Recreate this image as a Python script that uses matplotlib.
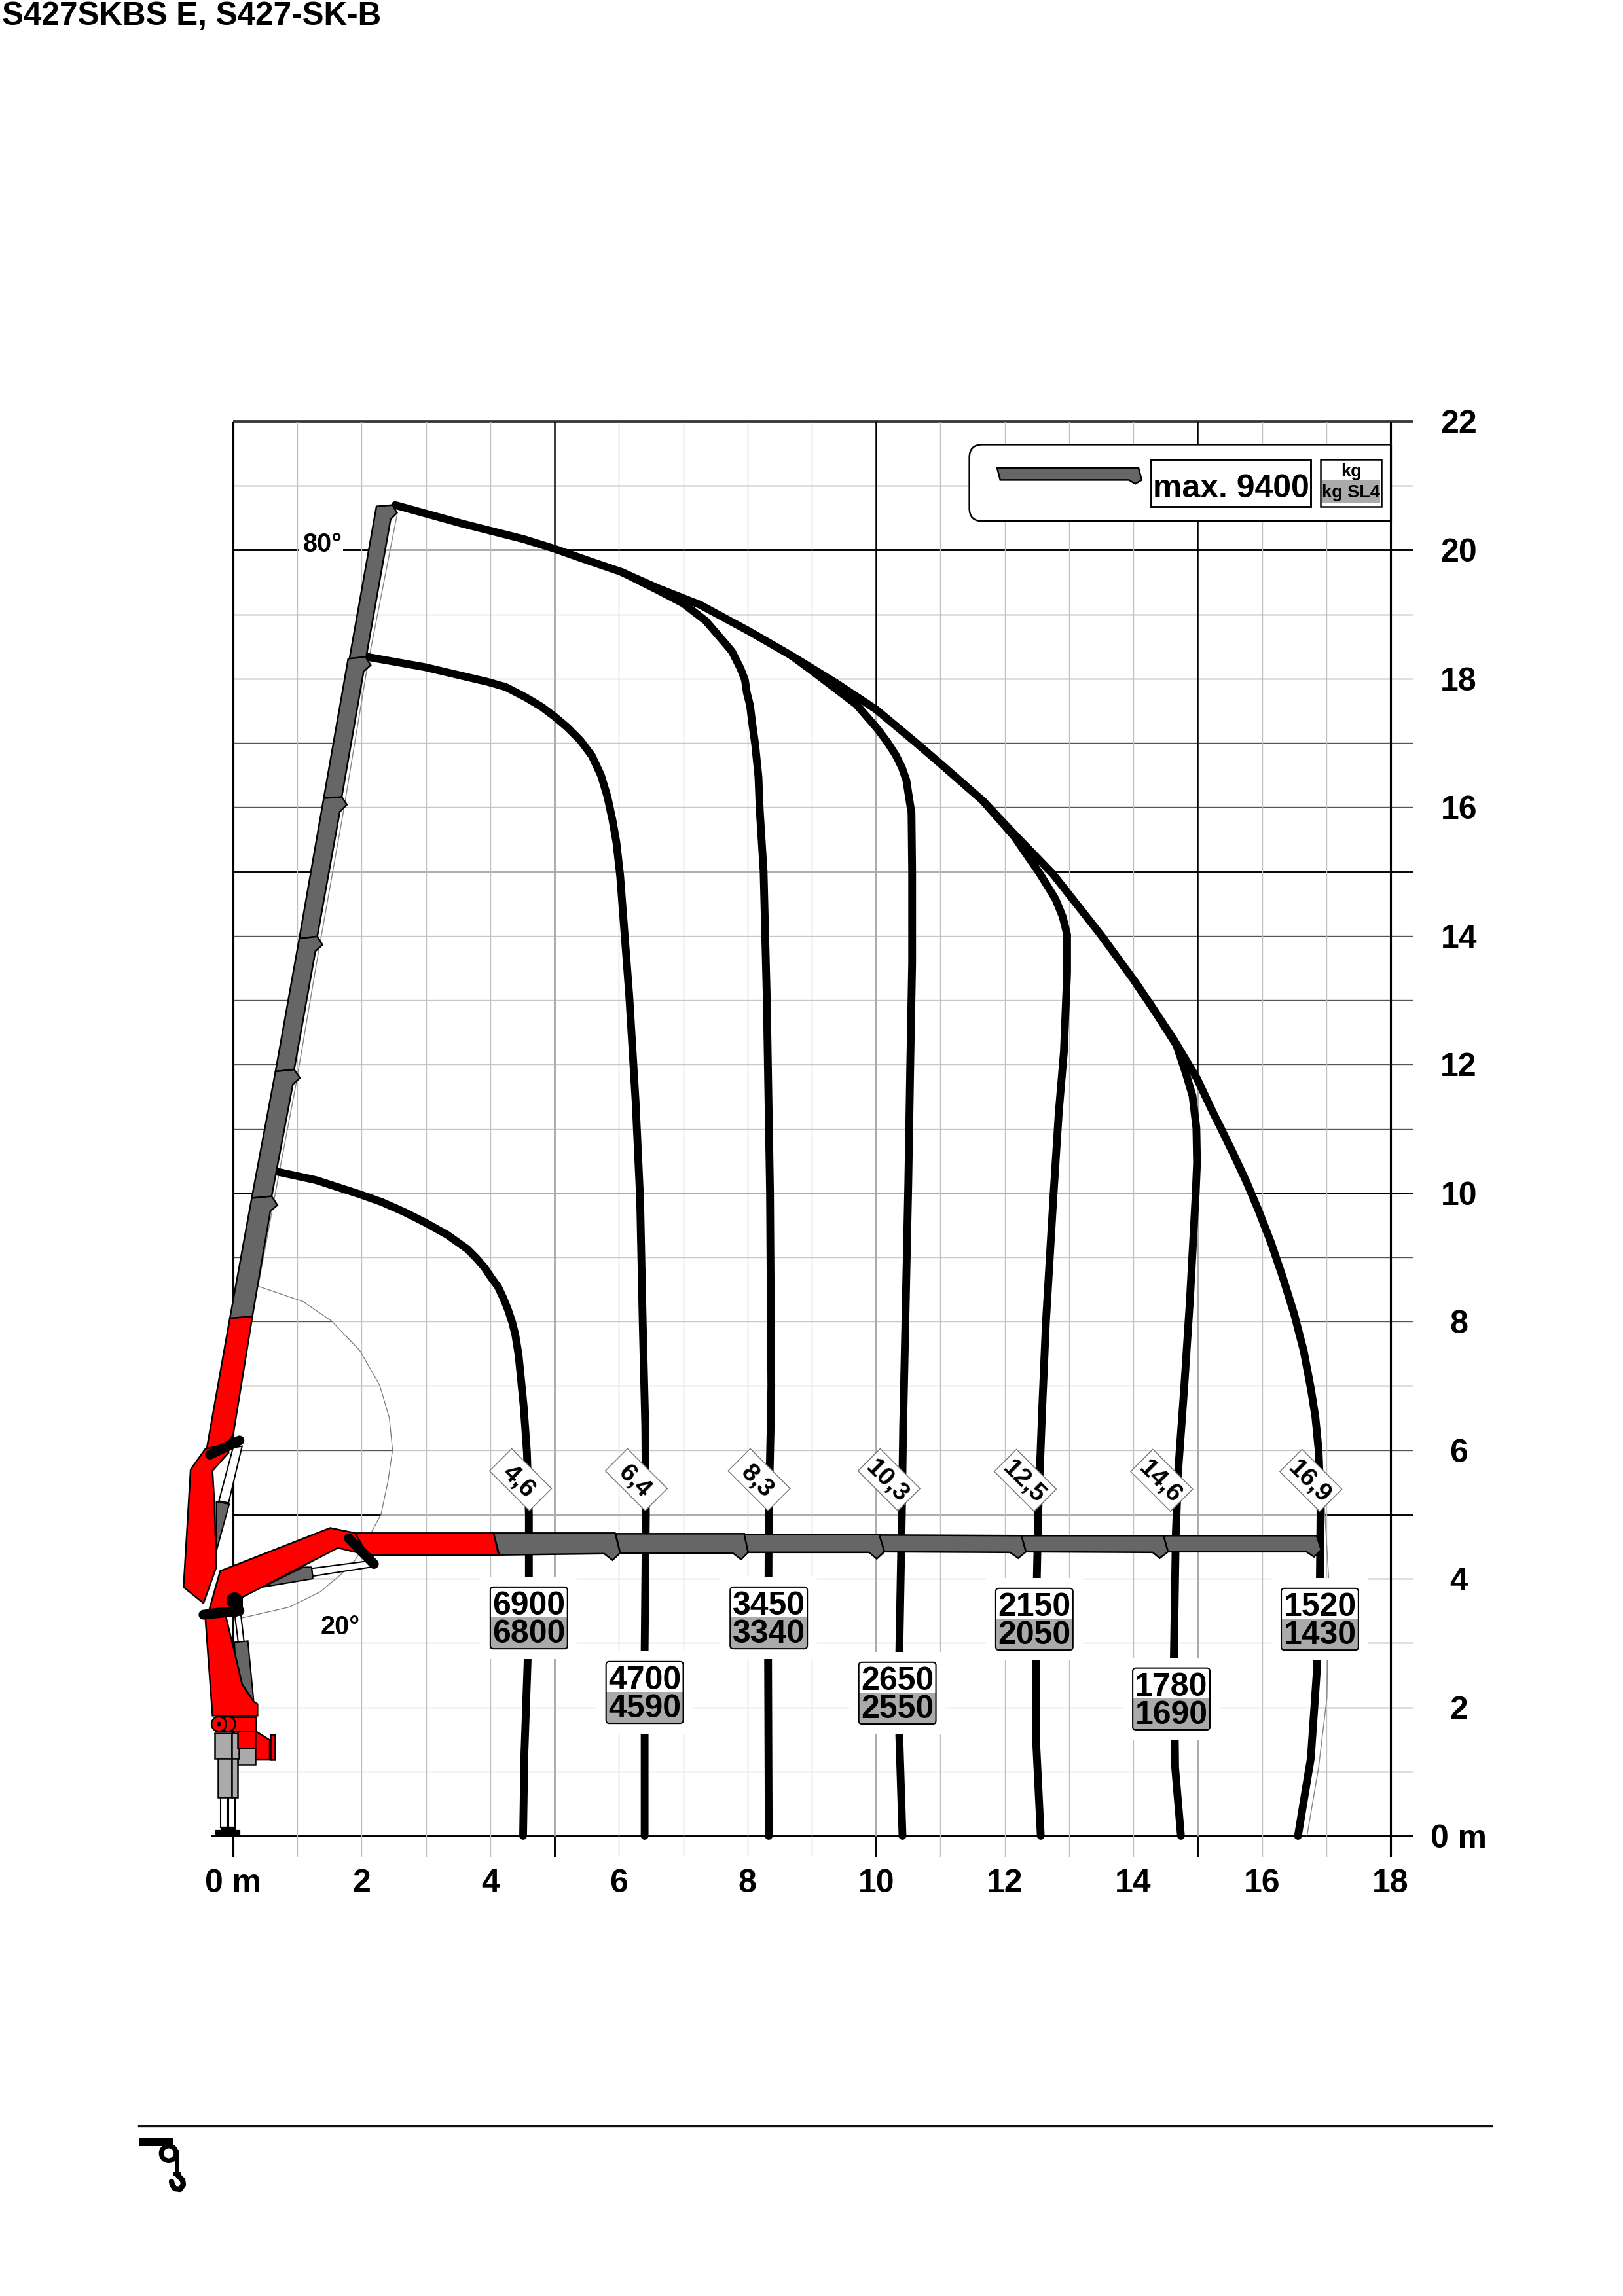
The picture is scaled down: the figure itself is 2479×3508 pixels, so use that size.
import numpy as np
import matplotlib
matplotlib.use("Agg")
import matplotlib.pyplot as plt
from matplotlib.patches import Polygon, Rectangle, FancyBboxPatch, Circle
from matplotlib.lines import Line2D

plt.rcParams['font.family'] = ['Liberation Sans', 'DejaVu Sans']
plt.rcParams['font.weight'] = 'bold'

TITLE = "S427SKBS E, S427-SK-B"
X_TICKS = list(range(0, 19, 2))
Y_TICKS = list(range(0, 23, 2))
X_LABELS = ["0 m"] + [str(v) for v in X_TICKS[1:]]
Y_LABELS = ["0 m"] + [str(v) for v in Y_TICKS[1:]]

# Reach envelope and hook-height curves (metres)
ENV_X = [2.52, 3.57, 4.52, 5.0, 5.54, 6.04, 6.6, 7.26, 8.02, 8.68, 9.38, 10.0, 10.6, 11.02, 11.66, 12.15, 12.75,
         13.49, 14.03, 14.62, 14.99, 15.24, 15.36, 15.56, 15.76, 15.95, 16.14, 16.32, 16.5, 16.65, 16.76, 16.83,
         16.88, 16.9, 16.91, 16.9, 16.85, 16.76, 16.56]
ENV_Y = [20.70, 20.41, 20.17, 20.02, 19.83, 19.66, 19.41, 19.15, 18.74, 18.36, 17.93, 17.52, 17.02, 16.66, 16.1, 15.58, 14.96,
         14.02, 13.28, 12.4, 11.78, 11.25, 11.01, 10.6, 10.17, 9.72, 9.23, 8.7, 8.12, 7.54, 6.96, 6.52,
         6.01, 5.5, 5.0, 3.97, 2.52, 1.21, 0.0]
C46_X = [0.69, 1.29, 1.97, 2.31, 2.65, 2.99, 3.33, 3.64, 3.78, 3.91, 4.01, 4.12, 4.2, 4.27, 4.34, 4.39, 4.44, 4.47, 4.52, 4.57, 4.6, 4.6, 4.58, 4.53, 4.51]
C46_Y = [10.33, 10.2, 9.98, 9.86, 9.71, 9.54, 9.35, 9.13, 8.99, 8.84, 8.69, 8.54, 8.37, 8.2, 7.99, 7.79, 7.48, 7.18, 6.67, 5.96, 5.0, 4.0, 2.7, 1.27, 0.0]
C64_X = [2.08, 2.98, 3.96, 4.24, 4.55, 4.8, 5.0, 5.2, 5.4, 5.58, 5.72, 5.82, 5.9, 5.96, 6.02, 6.06, 6.16, 6.26, 6.33, 6.37, 6.41, 6.42, 6.4, 6.4, 6.4]
C64_Y = [18.34, 18.18, 17.95, 17.87, 17.71, 17.56, 17.41, 17.24, 17.04, 16.8, 16.5, 16.17, 15.8, 15.46, 14.93, 14.4, 13.08, 11.42, 9.9, 8.0, 6.36, 5.0, 2.87, 1.55, 0.0]
C83_X = [6.04, 6.6, 7.0, 7.35, 7.66, 7.76, 7.89, 7.96, 7.99, 8.04, 8.07, 8.12, 8.17, 8.19, 8.25, 8.3, 8.35, 8.37, 8.36, 8.33, 8.32, 8.33]
C83_Y = [19.66, 19.38, 19.17, 18.9, 18.54, 18.42, 18.16, 17.98, 17.78, 17.58, 17.33, 16.97, 16.47, 15.96, 15.0, 13.0, 10.0, 7.0, 6.36, 5.0, 2.7, 0.0]
C103_X = [8.68, 8.98, 9.69, 10.02, 10.17, 10.3, 10.4, 10.47, 10.51, 10.55, 10.56, 10.56, 10.53, 10.5, 10.42, 10.4, 10.36, 10.36, 10.41]
C103_Y = [18.36, 18.14, 17.6, 17.22, 17.02, 16.82, 16.62, 16.42, 16.16, 15.91, 15.0, 13.58, 11.95, 10.14, 6.36, 5.0, 2.85, 1.56, 0.0]
C125_X = [11.66, 12.15, 12.55, 12.79, 12.9, 12.97, 12.97, 12.92, 12.84, 12.76, 12.64, 12.58, 12.52, 12.5, 12.49, 12.49, 12.56]
C125_Y = [16.1, 15.54, 14.96, 14.57, 14.3, 14.02, 13.43, 12.2, 11.25, 10.0, 7.98, 6.59, 5.0, 4.05, 2.74, 1.43, 0.0]
C146_X = [14.03, 14.3, 14.67, 14.82, 14.92, 14.98, 14.99, 14.97, 14.88, 14.79, 14.7, 14.66, 14.63, 14.65, 14.74]
C146_Y = [13.28, 12.88, 12.3, 11.85, 11.51, 11.01, 10.47, 10.0, 8.34, 6.96, 5.72, 4.7, 2.77, 1.06, 0.0]
CURVES = [(C46_X, C46_Y), (C64_X, C64_Y), (C83_X, C83_Y), (C103_X, C103_Y), (C125_X, C125_Y), (C146_X, C146_Y), (ENV_X, ENV_Y)]

# Loads
REACH_LABELS = ["4,6", "6,4", "8,3", "10,3", "12,5", "14,6", "16,9"]
REACH_X = [4.47, 6.27, 8.18, 10.2, 12.32, 14.44, 16.76]
REACH_Y = [5.54, 5.54, 5.54, 5.54, 5.53, 5.53, 5.53]
LOAD_TOP = [6900, 4700, 3450, 2650, 2150, 1780, 1520]
LOAD_LOW = [6800, 4590, 3340, 2550, 2050, 1690, 1430]
LOAD_X = [4.6, 6.4, 8.33, 10.33, 12.46, 14.59, 16.9]
LOAD_BOX_TOP = [3.87, 2.71, 3.87, 2.70, 3.85, 2.61, 3.85]

# Limits of the working area used for grid colouring
ARC_X = [0.39, 1.09, 1.53, 1.97, 2.28, 2.43, 2.48, 2.41, 2.3, 2.16, 1.9, 1.67, 1.36, 0.88, 0.14]
ARC_Y = [8.55, 8.31, 8.01, 7.55, 7.01, 6.5, 6.0, 5.52, 5.0, 4.74, 4.29, 4.06, 3.8, 3.56, 3.39]
THIN_ENV_X = [16.97, 17.04, 17.01, 16.88, 16.7]
THIN_ENV_Y = [5.14, 3.97, 2.15, 1.06, 0.0]
THIN_BOOM_X = [2.55, 2.09, 1.71, 1.33, 0.98, 0.62, 0.39]
THIN_BOOM_Y = [20.55, 18.2, 15.9, 13.76, 11.7, 9.8, 8.55]

# Crane drawing (metres)
GREY_BOOM_H = [
    [(4.05, 4.71), (5.94, 4.71), (6.02, 4.40), (5.9, 4.29), (5.77, 4.39), (4.14, 4.37)],
    [(5.95, 4.70), (7.95, 4.70), (8.01, 4.41), (7.9, 4.3), (7.77, 4.40), (6.02, 4.40)],
    [(7.95, 4.69), (10.05, 4.69), (10.13, 4.42), (10.01, 4.31), (9.89, 4.41), (8.01, 4.41)],
    [(10.05, 4.68), (12.26, 4.67), (12.33, 4.42), (12.21, 4.32), (12.08, 4.41), (10.13, 4.42)],
    [(12.26, 4.67), (14.47, 4.67), (14.54, 4.42), (14.41, 4.32), (14.3, 4.41), (12.33, 4.42)],
    [(14.47, 4.67), (16.85, 4.67), (16.92, 4.45), (16.81, 4.34), (16.69, 4.42), (14.54, 4.42)],
]
GREY_BOOM_V = [
    [(2.23, 20.68), (2.48, 20.70), (2.55, 20.58), (2.45, 20.48), (2.07, 18.34), (1.81, 18.31)],
    [(1.79, 18.31), (2.06, 18.34), (2.14, 18.21), (2.03, 18.11), (1.69, 16.16), (1.41, 16.14)],
    [(1.41, 16.14), (1.69, 16.16), (1.77, 16.04), (1.66, 15.93), (1.31, 13.99), (1.03, 13.96)],
    [(1.03, 13.96), (1.31, 13.99), (1.39, 13.86), (1.28, 13.76), (0.95, 11.92), (0.66, 11.89)],
    [(0.66, 11.89), (0.95, 11.92), (1.04, 11.79), (0.93, 11.69), (0.6, 9.95), (0.29, 9.92)],
    [(0.29, 9.92), (0.6, 9.95), (0.69, 9.81), (0.58, 9.72), (0.3, 8.08), (-0.05, 8.05)],
]
RED_SHAPES = [
    [(-0.05, 8.05), (0.3, 8.08), (0.0, 6.23), (-0.07, 6.13), (-0.14, 6.07), (-0.41, 6.02)],
    [(-0.43, 6.02), (-0.66, 5.7), (-0.77, 3.87), (-0.46, 3.62), (-0.26, 4.18), (-0.29, 5.18), (-0.32, 5.68), (-0.07, 5.96), (-0.07, 6.1)],
    [(-0.2, 4.12), (1.51, 4.79), (1.9, 4.71), (2.09, 4.37), (1.63, 4.48), (0.14, 3.71), (0.14, 3.57), (-0.37, 3.52)],
    [(1.9, 4.71), (4.05, 4.71), (4.13, 4.37), (2.09, 4.37)],
    [(-0.43, 3.38), (-0.12, 3.45), (0.14, 2.36), (0.32, 2.09), (0.38, 2.05), (0.38, 1.87), (-0.32, 1.87)],
    [(-0.27, 1.85), (0.36, 1.85), (0.36, 1.63), (-0.27, 1.63)],
    [(0.07, 1.63), (0.35, 1.63), (0.35, 1.36), (0.07, 1.36)],
    [(0.35, 1.63), (0.57, 1.49), (0.57, 1.19), (0.35, 1.19)],
    [(0.58, 1.58), (0.65, 1.58), (0.65, 1.19), (0.58, 1.19)],
]
CYLINDERS = [
    [(-0.26, 5.2), (-0.06, 5.16), (-0.26, 4.43)],
    [(1.09, 4.18), (1.22, 4.18), (1.24, 4.0), (0.46, 3.87)],
    [(0.02, 3.01), (0.23, 3.03), (0.32, 2.1), (0.14, 2.36), (0.03, 2.84)],
]
RODS = [
    [(-0.22, 5.21), (0.0, 6.04), (0.14, 6.06), (-0.07, 5.18)],
    [(1.22, 4.16), (2.14, 4.28), (2.14, 4.18), (1.24, 4.04)],
    [(0.03, 3.41), (0.08, 3.02), (0.17, 3.02), (0.12, 3.45)],
]
BASE_LIGHT = [
    [(0.07, 1.36), (0.35, 1.36), (0.35, 1.11), (0.07, 1.11)],
    [(-0.28, 1.6), (-0.02, 1.6), (-0.02, 1.2), (-0.28, 1.2)],
    [(-0.02, 1.6), (0.09, 1.6), (0.09, 1.2), (-0.02, 1.2)],
    [(-0.23, 1.2), (-0.02, 1.2), (-0.02, 0.6), (-0.23, 0.6)],
    [(-0.02, 1.2), (0.07, 1.2), (0.07, 0.6), (-0.02, 0.6)],
]
BASE_RODS = [
    [(-0.19, 0.6), (-0.09, 0.6), (-0.09, 0.13), (-0.19, 0.13)],
    [(-0.07, 0.6), (0.03, 0.6), (0.03, 0.13), (-0.07, 0.13)],
]
BASE_FOOT = [
    [(-0.27, 0.09), (0.1, 0.09), (0.1, 0.0), (-0.27, 0.0)],
    [(-0.19, 0.14), (0.03, 0.14), (0.03, 0.08), (-0.19, 0.08)],
]
LINKS = [[(-0.36, 5.93), (0.1, 6.15)], [(1.8, 4.63), (2.19, 4.23)], [(-0.46, 3.44), (0.1, 3.5)]]

W, H = 2479, 3508
PX_L, PX_R, PX_T, PX_B = 356.0, 2124.0, 644.0, 2805.0
fig = plt.figure(figsize=(W / 300, H / 300), dpi=300, facecolor='white')
ax = fig.add_axes([PX_L / W, 1 - PX_B / H, (PX_R - PX_L) / W, (PX_B - PX_T) / H])
ax.set_xlim(0, 18)
ax.set_ylim(0, 22)
for s in ax.spines.values():
    s.set_visible(False)
ax.set_xticks(X_TICKS)
ax.set_xticklabels(X_LABELS, fontsize=12, fontweight='bold')
ax.yaxis.tick_right()
ax.set_yticks(Y_TICKS)
ax.set_yticklabels(Y_LABELS, fontsize=12, fontweight='bold')
ax.tick_params(axis='x', length=0, pad=12)
ax.tick_params(axis='y', length=0, pad=25)
for t in ax.get_yticklabels():
    t.set_ha('center')

DARK_THIN, LIGHT_THIN = '#555555', '#c8c8c8'
DARK_THICK, LIGHT_THICK = '#000000', '#aaaaaa'
EXT_R, EXT_B = 18.35, -0.33


def gline(xs, ys, c, lw, z=1):
    ax.plot(xs, ys, color=c, lw=lw, zorder=z, clip_on=False, solid_capstyle='butt')


env_y_r, env_x_r = np.array(ENV_Y)[::-1], np.array(ENV_X)[::-1]
arc_y_r, arc_x_r = np.array(ARC_Y)[::-1], np.array(ARC_X)[::-1]
for y in range(0, 23):
    thick = y % 5 == 0
    d, l, w = (DARK_THICK, LIGHT_THICK, 0.7) if thick else (DARK_THIN, LIGHT_THIN, 0.33)
    if y == 0:
        gline([-0.345, EXT_R], [0, 0], '#000000', 0.7)
        continue
    if y > 20.7:
        gline([0, EXT_R], [y, y], '#333333' if y == 22 else d, 0.9 if y == 22 else w)
        continue
    xr = float(np.interp(y, env_y_r, env_x_r))
    if y >= 8.55:
        xl = -0.05 + (y - 8.05) * (2.28 / 12.64)
    elif y >= 3.39:
        xl = float(np.interp(y, arc_y_r, arc_x_r))
    else:
        xl = 0.0
    if xl > 0:
        gline([0, xl], [y, y], d, w)
    gline([xl, xr], [y, y], l, w)
    gline([xr, EXT_R], [y, y], d, w)

for x in range(1, 18):
    if x % 5 == 0:
        yt = float(np.interp(x, ENV_X[:30], ENV_Y[:30]))
        gline([x, x], [EXT_B, 0], '#000000', 0.7)
        gline([x, x], [0, yt], LIGHT_THICK, 0.7)
        gline([x, x], [yt, 22], '#000000', 0.6)
    else:
        gline([x, x], [EXT_B, 22], '#c0c0c0', 0.32)
gline([0, 0], [EXT_B, 22], '#000000', 0.75, z=1.2)
gline([18, 18], [EXT_B, 22], '#000000', 0.75, z=1.2)

ax.plot(ARC_X, ARC_Y, color='#777777', lw=0.3, zorder=1.5, clip_on=False)
ax.plot(THIN_ENV_X, THIN_ENV_Y, color='#888888', lw=0.35, zorder=1.5, clip_on=False)
ax.plot(THIN_BOOM_X, THIN_BOOM_Y, color='#888888', lw=0.35, zorder=1.5, clip_on=False)

for cx, cy in CURVES:
    ax.plot(cx, cy, color='black', lw=2.85, zorder=3, solid_capstyle='round', solid_joinstyle='round', clip_on=False)

# White gaps round the load boxes
BOX_H, BOX_W = 0.96, 1.2
for x, top in zip(LOAD_X, LOAD_BOX_TOP):
    ax.add_patch(Rectangle((x - 0.75, top - BOX_H - 0.16), 1.5, BOX_H + 0.32, fc='white', ec='none', zorder=4, clip_on=False))

EC = 'black'
for p in RODS + BASE_RODS:
    ax.add_patch(Polygon(p, closed=True, fc='white', ec=EC, lw=0.5, zorder=5, clip_on=False))
for p in CYLINDERS:
    ax.add_patch(Polygon(p, closed=True, fc='#666666', ec=EC, lw=0.5, zorder=5, clip_on=False))
for p in GREY_BOOM_H + GREY_BOOM_V:
    ax.add_patch(Polygon(p, closed=True, fc='#666666', ec=EC, lw=0.6, zorder=5.1, clip_on=False))
for p in BASE_LIGHT:
    ax.add_patch(Polygon(p, closed=True, fc='#aaaaaa', ec=EC, lw=0.6, zorder=5.1, clip_on=False))
for p in BASE_FOOT:
    ax.add_patch(Polygon(p, closed=True, fc='black', ec=EC, lw=0.3, zorder=5.1, clip_on=False))
for p in RED_SHAPES:
    ax.add_patch(Polygon(p, closed=True, fc='#ff0000', ec=EC, lw=0.6, zorder=5.2, clip_on=False))
for p in LINKS:
    a, b = zip(*p)
    ax.plot(a, b, color='black', lw=3.6, solid_capstyle='round', zorder=5.3, clip_on=False)
ax.plot([0.02], [3.66], marker='o', ms=5, color='black', zorder=5.3, clip_on=False)
ax.add_patch(Circle((-0.08, 1.74), 0.115, fc='#ff0000', ec=EC, lw=0.6, zorder=5.3, clip_on=False))
ax.add_patch(Circle((-0.22, 1.74), 0.115, fc='#ff0000', ec=EC, lw=0.6, zorder=5.35, clip_on=False))
ax.add_patch(Circle((-0.22, 1.74), 0.035, fc='black', ec='none', zorder=5.4, clip_on=False))

CAP = 0.356  # cap height of 12 pt text, metres


def txt(x, y, s, size=12, **kw):
    return ax.text(x, y - CAP * size / 24, s, fontsize=size, fontweight='bold', ha='center', va='baseline',
                   color='black', zorder=7, clip_on=False, **kw)


# Load boxes
for x, top, a, b in zip(LOAD_X, LOAD_BOX_TOP, LOAD_TOP, LOAD_LOW):
    bot = top - BOX_H
    mid = top - 0.47
    ax.add_patch(Rectangle((x - BOX_W / 2, mid), BOX_W, 0.47, fc='white', ec='none', zorder=6, clip_on=False))
    ax.add_patch(Rectangle((x - BOX_W / 2, bot), BOX_W, 0.49, fc='#aaaaaa', ec='none', zorder=6, clip_on=False))
    ax.add_patch(FancyBboxPatch((x - BOX_W / 2 + 0.05, bot + 0.05), BOX_W - 0.1, BOX_H - 0.1,
                                boxstyle='round,pad=0.05,rounding_size=0.05', mutation_aspect=1,
                                fc='none', ec='black', lw=0.5, zorder=6.2, clip_on=False))
    txt(x, top - 0.25, str(a))
    txt(x, bot + 0.27, str(b))

# Reach diamonds
ang = np.deg2rad(-45)
R = np.array([[np.cos(ang), -np.sin(ang)], [np.sin(ang), np.cos(ang)]])
corners = np.array([[-0.438, -0.244], [0.438, -0.244], [0.438, 0.244], [-0.438, 0.244]])
for s, x, y in zip(REACH_LABELS, REACH_X, REACH_Y):
    ax.add_patch(Polygon(corners @ R.T + [x, y], closed=True, fc='white', ec='#777777', lw=0.35, zorder=6, clip_on=False))
    ax.text(x, y, s, fontsize=9.3, fontweight='bold', rotation=-45, rotation_mode='anchor', ha='center',
            va='center_baseline', zorder=7, clip_on=False)

# Angle labels
ax.add_patch(Rectangle((1.02, 19.85), 0.69, 0.55, fc='white', ec='none', zorder=1.8))
txt(1.39, 20.115, "80°", size=9.5)
txt(1.67, 3.28, "20°", size=9.5)

# Legend panel
ax.add_patch(FancyBboxPatch((11.65, 20.65), 7.0, 0.79, boxstyle='round,pad=0.2,rounding_size=0.2',
                            fc='white', ec='black', lw=0.6, zorder=4))
gline([18, 18], [20.45, 21.64], '#000000', 0.75, z=4.1)
ax.add_patch(Polygon([(11.88, 21.28), (14.08, 21.28), (14.13, 21.09), (14.03, 21.03), (13.93, 21.09), (11.93, 21.09)],
                     closed=True, fc='#666666', ec='black', lw=0.6, zorder=5))
ax.add_patch(Rectangle((14.27, 20.68), 2.49, 0.73, fc='white', ec='black', lw=0.7, zorder=5))
txt(15.515, 21.0, "max. 9400")
ax.add_patch(Rectangle((16.91, 20.68), 0.95, 0.73, fc='white', ec='black', lw=0.6, zorder=5))
ax.add_patch(Rectangle((16.93, 20.73), 0.91, 0.35, fc='#aaaaaa', ec='none', zorder=5.1))
txt(17.385, 21.24, "kg", size=6.5)
txt(17.385, 20.92, "kg SL4", size=6.5)

# Title and footer in pixel positions
fig.text(3 / W, 1 - 38 / H, TITLE, fontsize=11.9, fontweight='bold', ha='left', va='baseline', color='black')
fig.add_artist(Line2D([212 / W, 2278 / W], [1 - 3248 / H, 1 - 3248 / H], color='#111111', lw=0.8))


def fp(pts):
    return np.array([[x / W, 1 - y / H] for x, y in pts])


ft = fig.transFigure
fig.add_artist(plt.Polygon(fp([(212, 3267), (264, 3267), (264, 3279), (212, 3279)]), closed=True, fc='black', ec='none', transform=ft))
fig.add_artist(matplotlib.patches.Ellipse((257.7 / W, 1 - 3290 / H), 30 / W, 30 / H, fc='black', ec='none', transform=ft))
fig.add_artist(matplotlib.patches.Ellipse((257.7 / W, 1 - 3290 / H), 15 / W, 15 / H, fc='white', ec='none', transform=ft))
fig.add_artist(plt.Polygon(fp([(267, 3285), (273, 3285), (273, 3320), (267, 3320)]), closed=True, fc='black', ec='none', transform=ft))
fig.add_artist(plt.Polygon(fp([(264, 3319), (277, 3319), (277, 3324), (264, 3324)]), closed=True, fc='black', ec='none', transform=ft))
hook = fp([(272, 3324), (279, 3331), (280, 3338), (275, 3345), (267, 3344), (263, 3338), (262, 3333)])
fig.add_artist(Line2D(hook[:, 0], hook[:, 1], color='black', lw=2.0, solid_capstyle='round', solid_joinstyle='round'))

fig.savefig('out.png', dpi=300, facecolor='white')
